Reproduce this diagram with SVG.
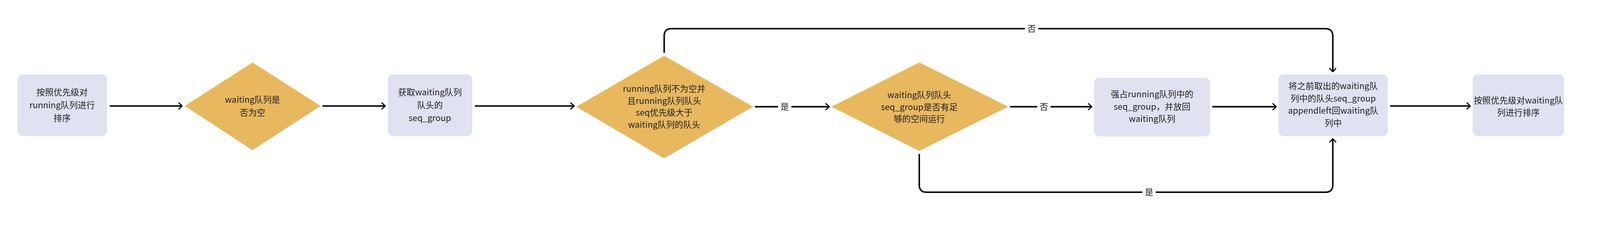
<svg xmlns="http://www.w3.org/2000/svg" width="4302" height="594" viewBox="0 0 4302 594">
<style>
.box{fill:#E0E2F1}
.dia{fill:#E8B85E}
text{font-family:"Noto Sans CJK SC","Noto Sans",sans-serif;font-size:23px;fill:#262626;text-anchor:middle}
.ln{fill:none;stroke:#000;stroke-width:4;marker-end:url(#ah)}
.lb{fill:#fff}
</style>
<defs>
<marker id="ah" viewBox="0 0 12 20" refX="11" refY="10" markerWidth="12" markerHeight="20" markerUnits="userSpaceOnUse" orient="auto">
<path d="M1,1 L11,10 L1,19" fill="none" stroke="#000" stroke-width="3"/>
</marker>
</defs>
<rect width="4302" height="594" fill="#fff"/>
<g transform="scale(0.952)">
<g id="connectors">
<path class="ln" d="M295,285 H490"/>
<path class="ln" d="M867,285 H1036"/>
<path class="ln" d="M1277,285 H1544"/>
<path class="ln" d="M2030,287 H2230"/>
<path class="ln" d="M2716,287 H2936"/>
<path class="ln" d="M3260,287 H3432"/>
<path class="ln" d="M3738,285 H3954"/>
<path class="ln" d="M1786,142 V97 Q1786,77 1806,77 H3564 Q3584,77 3584,97 V193"/>
<path class="ln" d="M2472,414 V497 Q2472,517 2492,517 H3564 Q3584,517 3584,497 V373"/>
<rect class="lb" x="2092" y="270" width="36" height="34"/>
<text x="2110" y="295">是</text>
<rect class="lb" x="2789" y="270" width="36" height="34"/>
<text x="2807" y="295">否</text>
<rect class="lb" x="2756" y="60" width="36" height="34"/>
<text x="2774" y="85">否</text>
<rect class="lb" x="3072" y="500" width="36" height="34"/>
<text x="3090" y="525">是</text>
</g>
<g id="n1"><rect class="box" x="47" y="200" width="241" height="166" rx="14"/>
<text x="167" y="256">按照优先级对</text><text x="167" y="291">running队列进行</text><text x="167" y="326">排序</text></g>
<g id="n2"><polygon class="dia" points="679,168 862,285 679,404 497,285"/>
<text x="679" y="276">waiting队列是</text><text x="679" y="311">否为空</text></g>
<g id="n3"><rect class="box" x="1043" y="200" width="227" height="166" rx="14"/>
<text x="1156" y="256">获取waiting队列</text><text x="1156" y="291">队头的</text><text x="1156" y="326">seq_group</text></g>
<g id="n4"><polygon class="dia" points="1786,150 2025,287 1786,426 1550,287"/>
<text x="1786" y="247">running队列不为空并</text><text x="1786" y="279">且running队列队头</text><text x="1786" y="311">seq优先级大于</text><text x="1786" y="343">waiting队列的队头</text></g>
<g id="n5"><polygon class="dia" points="2472,168 2711,287 2472,406 2236,287"/>
<text x="2472" y="264">waiting队列队头</text><text x="2472" y="296">seq_group是否有足</text><text x="2472" y="328">够的空间运行</text></g>
<g id="n6"><rect class="box" x="2942" y="209" width="312" height="158" rx="14"/>
<text x="3098" y="262">强占running队列中的</text><text x="3098" y="295">seq_group，并放回</text><text x="3098" y="328">waiting队列</text></g>
<g id="n7"><rect class="box" x="3438" y="200" width="294" height="166" rx="14"/>
<text x="3585" y="240">将之前取出的waiting队</text><text x="3585" y="273">列中的队头seq_group</text><text x="3585" y="306">appendleft回waiting队</text><text x="3585" y="339">列中</text></g>
<g id="n8"><rect class="box" x="3960" y="200" width="246" height="166" rx="14"/>
<text x="4083" y="278">按照优先级对waiting队</text><text x="4083" y="311">列进行排序</text></g>
</g>
</svg>
